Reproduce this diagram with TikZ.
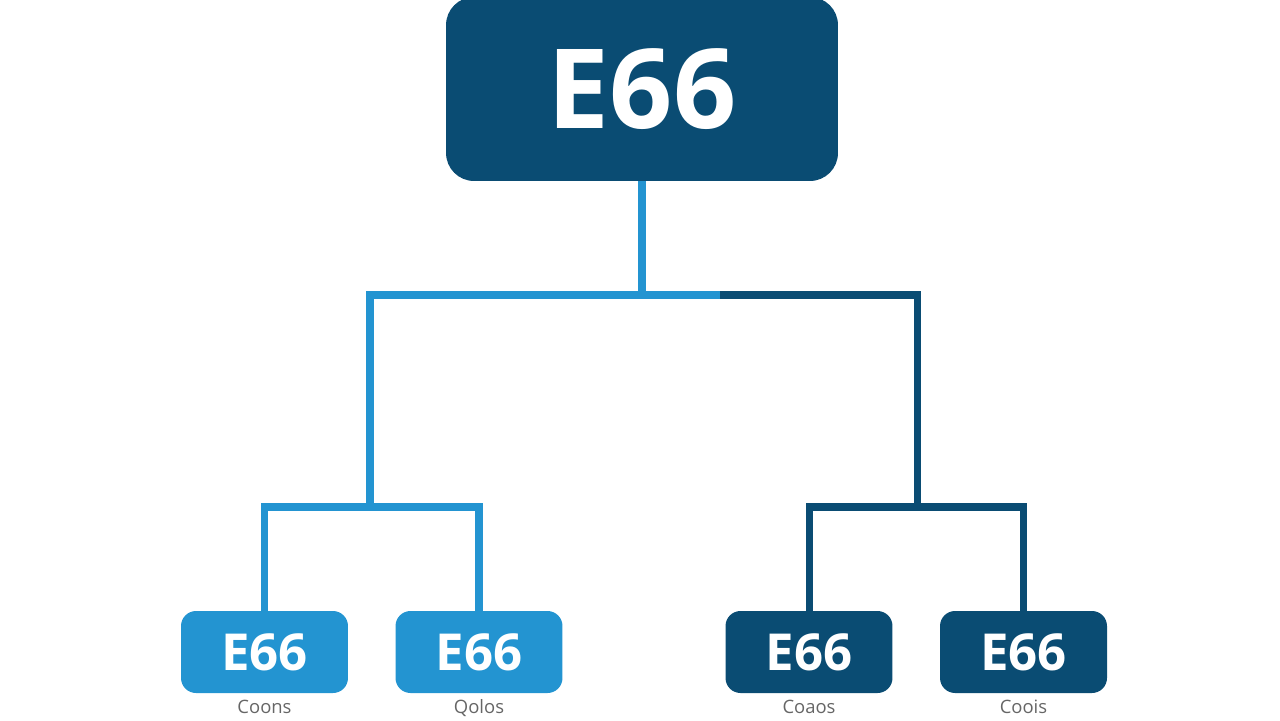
\documentclass[tikz,border=0pt]{standalone}
\usepackage{fontspec}
\setmainfont{Open Sans}
\usetikzlibrary{positioning}
\definecolor{lightblue}{RGB}{35,148,209}
\definecolor{darkblue}{RGB}{10,76,115}
\tikzset{
  rootbox/.style={fill=darkblue,text=white,rounded corners=0.56cm,minimum width=7.84cm,minimum height=3.68cm,font=\fontsize{63}{70}\selectfont\bfseries},
  leafbox/.style={text=white,rounded corners=0.3cm,minimum width=3.34cm,minimum height=1.64cm,font=\fontsize{29}{32}\selectfont\bfseries},
  leaflabel/.style={text=black!60,inner sep=0pt,font=\fontsize{10.5}{12}\selectfont},
  lightline/.style={draw=lightblue,line width=4pt},
  darkline/.style={draw=darkblue,line width=4pt}
}

\begin{document}
\begin{tikzpicture}[x=0.02cm,y=-0.02cm]
\useasboundingbox (0,0) rectangle (1280,720);
% root
\node [rootbox] (root) at (642,89) {E66};
% junctions
\coordinate (mid) at (720,295);
\coordinate (lj) at (370,507);
\coordinate (rj) at (917,507);
% leaves
\node [leafbox,fill=lightblue] (b1) at (264.5,652) {E66};
\node [leafbox,fill=lightblue] (b2) at (479,652) {E66};
\node [leafbox,fill=darkblue] (b3) at (809,652) {E66};
\node [leafbox,fill=darkblue] (b4) at (1023.5,652) {E66};
%
\node [leaflabel,below=0.12cm of b1] (l1) {Coons};
\node [leaflabel,below=0.12cm of b2] (l2) {Qolos};
\node [leaflabel,below=0.12cm of b3] (l3) {Coaos};
\node [leaflabel,below=0.12cm of b4] (l4) {Coois};
% trunk
\draw [lightline] (root.south) -- (root.south |- mid);
\draw [lightline] (lj) |- (mid);
\draw [darkline] (rj) |- (mid);
% left branch
\draw [lightline] (b1.north) |- (lj) -| (b2.north);
% right branch
\draw [darkline] (b3.north) |- (rj) -| (b4.north);
\end{tikzpicture}
\end{document}
